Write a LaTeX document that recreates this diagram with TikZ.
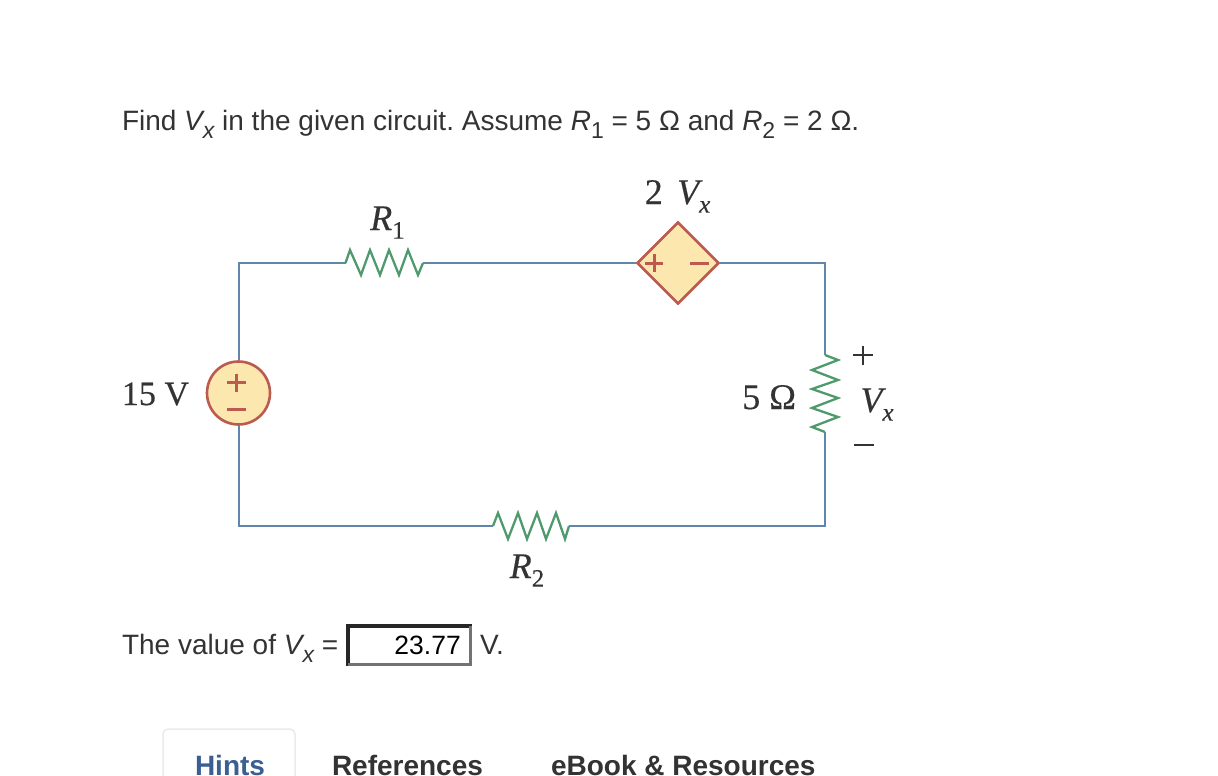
\documentclass[tikz,border=0pt]{standalone}
\usepackage{fontspec}
\setmainfont{Liberation Sans}
\newfontfamily\cktfont[FakeBold=0.35]{Liberation Serif}
\usetikzlibrary{shapes.geometric}
\definecolor{wirec}{HTML}{6086AE}
\definecolor{resc}{HTML}{4E9A6C}
\definecolor{srcc}{HTML}{BC5A50}
\definecolor{srcf}{HTML}{FCE8AE}
\definecolor{txtc}{HTML}{333333}
\definecolor{hintc}{HTML}{3A5F92}
\frenchspacing
\newcommand{\ivar}[2]{{\itshape #1}\raisebox{-0.30em}{\fontsize{23}{23}\selectfont #2}}
\newcommand{\nvar}[2]{{\itshape #1}\raisebox{-0.24em}{\fontsize{25}{25}\selectfont #2}}
\tikzset{
  wire/.style={draw=wirec,line width=2pt},
  zig/.style={draw=resc,line width=2.3pt,line join=miter},
  srcline/.style={draw=srcc,line width=3pt},
  body/.style={anchor=base west,inner sep=0pt,outer sep=0pt,text=txtc,font=\fontsize{28}{28}\selectfont},
  tab/.style={anchor=base west,inner sep=0pt,outer sep=0pt,font=\fontsize{28}{28}\selectfont\bfseries,text=txtc},
  ckt/.style={anchor=base,inner sep=0pt,outer sep=0pt,text=txtc,font=\cktfont\fontsize{36}{36}\selectfont}
}
\begin{document}
\begin{tikzpicture}[x=1pt,y=-1pt]
\useasboundingbox (0,0) rectangle (1218,776);
\fill[white] (0,0) rectangle (1218,776);
\node[body] (q) at (122,130) {Find \ivar{V}{\itshape x} in the given circuit. Assume \ivar{R}{1} = 5 Ω and \ivar{R}{2} = 2 Ω.};
% corners and resistor ends
\coordinate (tl) at (238.5,263);
\coordinate (tr) at (825,263);
\coordinate (bl) at (238.5,526);
\coordinate (br) at (825,526);
\coordinate (r1a) at (345.5,263);
\coordinate (r1b) at (423,263);
\coordinate (r2a) at (493,526);
\coordinate (r2b) at (569,526);
\coordinate (r3a) at (825,355);
\coordinate (r3b) at (825,432);
\node[diamond,draw=srcc,fill=srcf,line width=2.6pt,minimum width=82pt,minimum height=82pt,inner sep=0pt] (dep) at (678,263) {};
\node[circle,draw=srcc,fill=srcf,line width=2.6pt,minimum size=63pt,inner sep=0pt] (src) at (238.5,393) {};
\draw[wire] (src.north) -- (tl) -- (r1a);
\draw[wire] (r1b) -- (dep.west);
\draw[wire] (dep.east) -- (tr) -- (r3a);
\draw[wire] (r3b) -- (br) -- (r2b);
\draw[wire] (r2a) -- (bl) -- (src.south);
\draw[zig] (r1a) -- (350,250) -- (361,275) -- (370,250) -- (380,275) -- (389,250) -- (399,275) -- (408,250) -- (418,275) -- (r1b);
\draw[zig] (r2a) -- (498,513) -- (508,539) -- (518,513) -- (527,539) -- (537,513) -- (546,539) -- (556,513) -- (565,539) -- (r2b);
\draw[zig] (r3a) -- (838,360) -- (812,370) -- (838,380) -- (812,389) -- (838,398) -- (812,408) -- (838,417) -- (812,427) -- (r3b);
% source polarity marks
\draw[srcline] (227,382) -- (246,382) (236.5,373.5) -- (236.5,392);
\draw[srcline] (227,409) -- (246,409);
\draw[srcline] (645,263) -- (663,263) (654,254) -- (654,272);
\draw[srcline] (690,263) -- (709,263);
% labels
\node[ckt] (lr1) at (387.5,230) {\nvar{R}{1}};
\node[ckt] (lr2) at (527,578) {\nvar{R}{2}};
\node[ckt] (ldep) at (677.5,204) {2\hspace{0.4em}\nvar{V}{\itshape x}};
\node[ckt,anchor=base east,font=\cktfont\fontsize{34}{34}\selectfont] (lv) at (189,405) {15 V};
\node[ckt,anchor=base east] (lo) at (796,409) {5 Ω};
\node[ckt] (lvx) at (877,412) {\nvar{V}{\itshape x}};
\draw[draw=txtc,line width=2pt] (853,355) -- (873,355) (863,345.5) -- (863,364.5);
\draw[draw=txtc,line width=2pt] (854,445) -- (874,445);
% answer line
\node[body] (a) at (122,654) {The value of \ivar{V}{\itshape x} =};
\fill[white] (346,624) rectangle (472,666);
\draw[draw=black!85,line width=4pt] (348,666) -- (348,626) -- (472,626);
\draw[draw=black!55,line width=3pt] (470.5,626) -- (470.5,664.5) -- (348,664.5);
\node[anchor=base east,inner sep=0pt,text=black,font=\fontsize{26.5}{26.5}\selectfont] (ans) at (461,654) {23.77};
\node[body] (v) at (480,654) {V.};
% tabs
\draw[draw=black!8,line width=1.5pt,rounded corners=5pt] (163,790) -- (163,729) -- (295,729) -- (295,790);
\node[tab,text=hintc] (h) at (195,775) {Hints};
\node[tab] (rf) at (332,775) {References};
\node[tab] (eb) at (551,775) {eBook \& Resources};
\end{tikzpicture}
\end{document}
